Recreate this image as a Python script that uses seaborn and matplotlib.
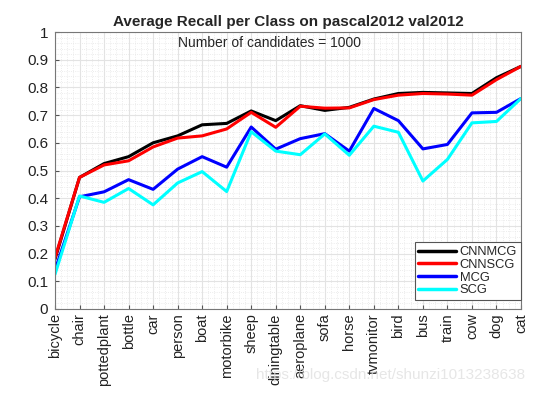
import pandas as pd
import numpy as np
import matplotlib
matplotlib.use("Agg")
import matplotlib.pyplot as plt
import seaborn as sns
from matplotlib.ticker import MultipleLocator

# Data
classes = ['bicycle', 'chair', 'pottedplant', 'bottle', 'car', 'person', 'boat',
           'motorbike', 'sheep', 'diningtable', 'aeroplane', 'sofa', 'horse',
           'tvmonitor', 'bird', 'bus', 'train', 'cow', 'dog', 'cat']
cnnmcg = [0.18, 0.475, 0.525, 0.55, 0.60, 0.625, 0.665, 0.67, 0.715, 0.68,
          0.734, 0.717, 0.728, 0.758, 0.778, 0.782, 0.78, 0.778, 0.835, 0.876]
cnnscg = [0.185, 0.475, 0.52, 0.535, 0.585, 0.617, 0.625, 0.65, 0.71, 0.656,
          0.732, 0.725, 0.726, 0.756, 0.772, 0.778, 0.776, 0.772, 0.828, 0.876]
mcg = [0.14, 0.405, 0.423, 0.467, 0.432, 0.505, 0.55, 0.512, 0.657, 0.577,
       0.615, 0.633, 0.57, 0.724, 0.68, 0.578, 0.594, 0.708, 0.71, 0.76]
scg = [0.125, 0.408, 0.385, 0.435, 0.376, 0.455, 0.496, 0.424, 0.64, 0.57,
       0.557, 0.632, 0.555, 0.66, 0.638, 0.462, 0.54, 0.672, 0.677, 0.76]
methods = ['CNNMCG', 'CNNSCG', 'MCG', 'SCG']
colors = ['black', 'red', 'blue', 'cyan']
yticks = [0, 0.1, 0.2, 0.3, 0.4, 0.5, 0.6, 0.7, 0.8, 0.9, 1]
ytick_labels = ['0', '0.1', '0.2', '0.3', '0.4', '0.5', '0.6', '0.7', '0.8', '0.9', '1']

rows = []
for name, vals in zip(methods, [cnnmcg, cnnscg, mcg, scg]):
    for i, v in enumerate(vals):
        rows.append({'idx': i, 'recall': v, 'method': name})
df = pd.DataFrame(rows)

sns.set_style("white")
plt.rcParams['font.family'] = ['Liberation Sans', 'DejaVu Sans']

fig = plt.figure(figsize=(5.35, 3.93), dpi=100)
ax = fig.add_axes([55 / 535, 1 - 309 / 393, 466 / 535, 277 / 393])

sns.lineplot(data=df, x='idx', y='recall', hue='method', hue_order=methods,
             palette=colors, linewidth=2.2, ax=ax)

ax.set_xlim(0, len(classes) - 1)
ax.set_ylim(0, 1)
ax.set_xticks(range(len(classes)))
ax.set_xticklabels(classes, rotation=90, fontsize=10.5)
ax.set_yticks(yticks)
ax.set_yticklabels(ytick_labels, fontsize=11)
ax.xaxis.set_minor_locator(MultipleLocator(0.25))
ax.yaxis.set_minor_locator(MultipleLocator(0.02))
ax.set_xlabel('')
ax.set_ylabel('')

ax.grid(which='major', color='#e3e3e3', linewidth=0.8, linestyle='-')
ax.grid(which='minor', color='#e6e6e6', linewidth=0.6, linestyle=':')
ax.set_axisbelow(True)
ax.tick_params(which='major', direction='in', length=3, color='#555555',
               bottom=True, left=True, labelcolor='#222222')
ax.tick_params(axis='x', pad=3)
ax.tick_params(axis='y', pad=5)
ax.tick_params(which='minor', length=0)
for s in ax.spines.values():
    s.set_color('#777777')
    s.set_linewidth(0.8)

ax.set_title('Average Recall per Class on pascal2012 val2012', fontsize=11,
             fontweight='bold', pad=4)
ax.text(0.46, 0.985, 'Number of candidates = 1000', transform=ax.transAxes,
        ha='center', va='top', fontsize=10)

leg = ax.legend(loc='lower right', bbox_to_anchor=(1.0, 0.032), fontsize=9.3,
                frameon=True, fancybox=False, borderpad=0.3, labelspacing=0.05,
                handlelength=2.9, handletextpad=0.3, borderaxespad=0)
leg.get_frame().set_edgecolor('#555555')
leg.get_frame().set_linewidth(0.8)
leg.get_frame().set_alpha(1)
for line in leg.get_lines():
    line.set_linewidth(2.5)

# faint watermark from the source image
fig.text(0.982, 0.035, 'https://blog.csdn.net/shunzi1013238638', ha='right',
         fontsize=11, color='#dcdcdc', alpha=0.7, zorder=0)

fig.savefig('out.png', dpi=100)
